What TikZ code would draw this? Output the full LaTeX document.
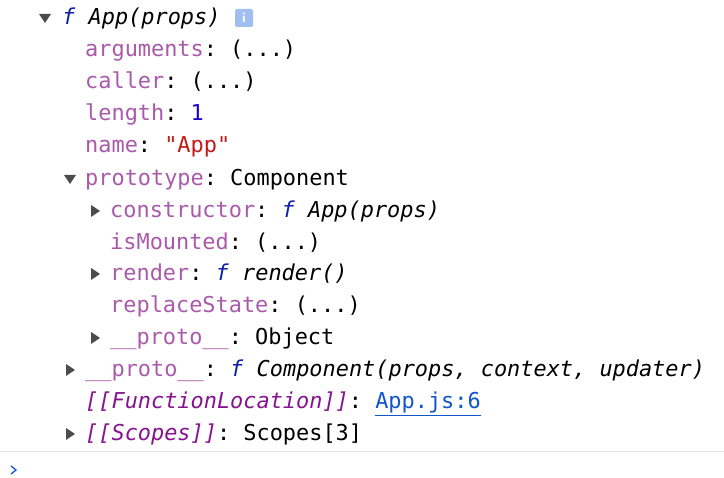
\documentclass[tikz,border=0pt]{standalone}
\usepackage{fontspec}
\setmonofont{DejaVu Sans Mono}
\begin{document}
\begin{tikzpicture}[x=1pt,y=-1pt,
  txt/.style={anchor=base west,inner sep=0pt,font=\ttfamily\fontsize{21.9}{24}\selectfont},
  tri/.style={fill=black!70,draw=none}]
\definecolor{key}{RGB}{170,90,170}
\definecolor{ikey}{RGB}{136,19,145}
\definecolor{num}{RGB}{28,0,207}
\definecolor{str}{RGB}{196,26,22}
\definecolor{fn}{RGB}{13,34,170}
\definecolor{lnk}{RGB}{17,85,204}
\definecolor{sep}{RGB}{230,230,230}
\useasboundingbox[fill=white] (0,0) rectangle (724,478);
\newcommand{\fun}{\textcolor{fn}{\textit{f}}}
\newcommand{\tdown}[2]{\fill[black!70] (#1-6,#2-4) -- (#1+6,#2-4) -- (#1,#2+5) -- cycle;}
\newcommand{\tright}[2]{\fill[black!70] (#1-4,#2-6) -- (#1-4,#2+6) -- (#1+5,#2) -- cycle;}
\tdown{45}{18}
\node[txt] (l1) at (62,25) {\fun\ \textit{App(props)}};
\node[fill={rgb,255:red,160;green,190;blue,240},rounded corners=2pt,minimum size=18pt,inner sep=0pt,text=white,font=\bfseries\sffamily\fontsize{14}{14}\selectfont] (info) at (244,18) {i};
\node[txt] (l2) at (85,57) {\textcolor{key}{arguments}: (...)};
\node[txt] (l3) at (85,89) {\textcolor{key}{caller}: (...)};
\node[txt] (l4) at (85,121) {\textcolor{key}{length}: \textcolor{num}{1}};
\node[txt] (l5) at (85,153) {\textcolor{key}{name}: \textcolor{str}{"App"}};
\tdown{70}{179}
\node[txt] (l6) at (85,186) {\textcolor{key}{prototype}: Component};
\tright{95}{211}
\node[txt] (l7) at (110,218) {\textcolor{key}{constructor}: \fun\ \textit{App(props)}};
\node[txt] (l8) at (110,250) {\textcolor{key}{isMounted}: (...)};
\tright{95}{274}
\node[txt] (l9) at (110,281) {\textcolor{key}{render}: \fun\ \textit{render()}};
\node[txt] (l10) at (110,313) {\textcolor{key}{replaceState}: (...)};
\tright{95}{338}
\node[txt] (l11) at (110,345) {\textcolor{key}{\_\_proto\_\_}: Object};
\tright{70}{370}
\node[txt] (l12) at (85,377) {\textcolor{key}{\_\_proto\_\_}: \fun\ \textit{Component(props, context, updater)}};
\node[txt] (l13) at (85,409) {\textcolor{ikey}{\textit{[[FunctionLocation]]}}: \textcolor{lnk}{\underline{App.js:6}}};
\tright{70}{434}
\node[txt] (l14) at (85,441) {\textcolor{ikey}{\textit{[[Scopes]]}}: Scopes[3]};
\draw[sep,line width=1pt] (0,452) -- (724,452);
\draw[lnk,line width=1.3pt] (11,466) -- (16,470) -- (11,474);
\end{tikzpicture}
\end{document}
